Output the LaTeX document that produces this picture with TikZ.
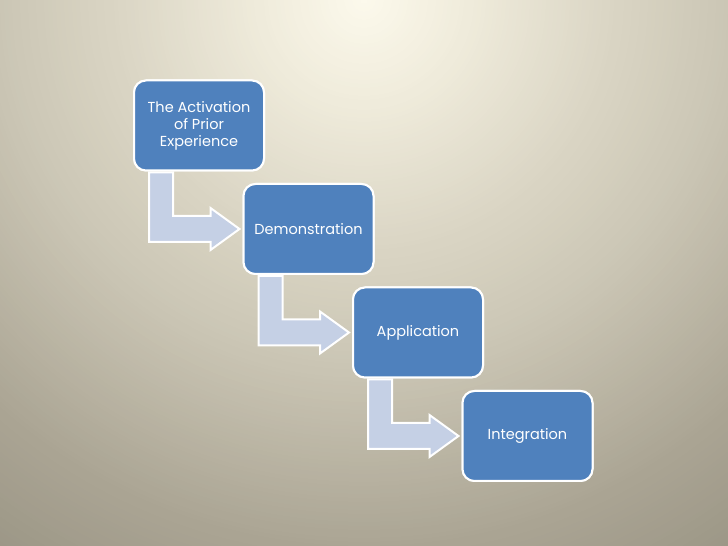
\documentclass[tikz,border=0pt]{standalone}
\usepackage{fontspec}
\setmainfont{Poppins}
\usetikzlibrary{calc}
\definecolor{bgA}{HTML}{FCF9EC}
\definecolor{bgB}{HTML}{F0ECDC}
\definecolor{bgC}{HTML}{DAD5C4}
\definecolor{bgD}{HTML}{CBC6B5}
\definecolor{bgE}{HTML}{ABA594}
\definecolor{bgF}{HTML}{979282}
\definecolor{boxblue}{HTML}{4F81BD}
\definecolor{arrowblue}{HTML}{C5D0E5}
\tikzset{
  stepbox/.style={draw=white, line width=2pt, fill=boxblue, rounded corners=12pt,
    minimum width=130pt, minimum height=90pt, text=white, align=center,
    font=\fontsize{14.5}{17}\selectfont, inner sep=2pt},
  bentarrow/.style={draw=white, line width=2pt, fill=arrowblue, line join=miter}
}
\begin{document}
\begin{tikzpicture}[x=1pt,y=1pt]
\useasboundingbox (0,0) rectangle (728,546);
\begin{scope}
\clip (0,0) rectangle (728,546);
\foreach \ra/\rb/\ca/\cb in {546/700/bgE/bgF, 364/546/bgD/bgE, 250/364/bgC/bgD, 100/250/bgB/bgC, 0/100/bgA/bgB} {
  \pgfmathtruncatemacro\rbb{\rb-4}
  \pgfmathtruncatemacro\raa{\ra+4}
  \foreach \r in {\rb,\rbb,...,\raa} {
    \pgfmathtruncatemacro\p{(\r-\ra)/(\rb-\ra)*100}
    \fill[\cb!\p!\ca] (364,546) circle (\r);
  }
}
\end{scope}
\node[stepbox] (b1) at (199,420.5) {The Activation\\of Prior\\Experience};
\node[stepbox] (b2) at (308.5,317) {Demonstration};
\node[stepbox] (b3) at (418,213.5) {Application};
\node[stepbox] (b4) at (527.5,110) {Integration};
\foreach \a/\b in {b1/b2, b2/b3, b3/b4} {
  \draw[bentarrow]
    ($(\a.south west)+(16,-1)$) -- ($(\a.south west)+(40,-1)$)
    |- ($(\b.west)+(-32,13)$) -- ($(\b.west)+(-32,21)$)
    -- ($(\b.west)+(-3,0)$) -- ($(\b.west)+(-32,-21)$)
    -- ($(\b.west)+(-32,-13)$) -| ($(\a.south west)+(16,-1)$) -- cycle;
}
\node[stepbox] at (b1) {The Activation\\of Prior\\Experience};
\node[stepbox] at (b2) {Demonstration};
\node[stepbox] at (b3) {Application};
\node[stepbox] at (b4) {Integration};
\end{tikzpicture}
\end{document}
